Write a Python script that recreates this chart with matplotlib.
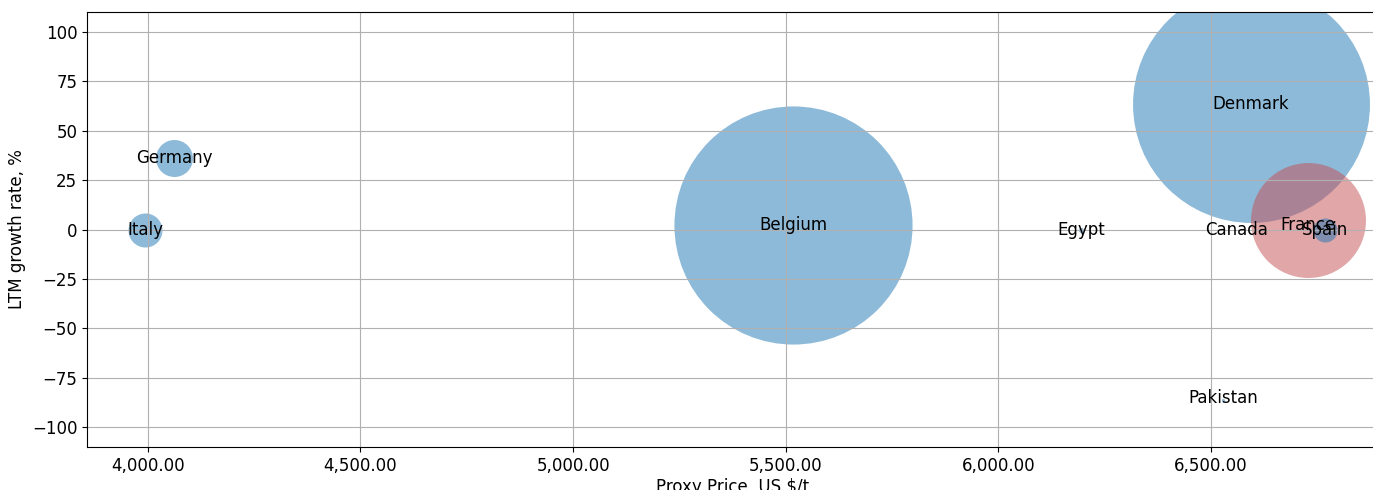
#!/usr/bin/env python3

import matplotlib
matplotlib.use("Agg")
import matplotlib.pyplot as plt
import matplotlib.ticker as mticker
from matplotlib.ticker import MultipleLocator

# ---- Data ----
countries = ["Italy", "Germany", "Belgium", "Egypt", "Canada",
             "Denmark", "France", "Spain", "Pakistan"]
proxy_price = [3994, 4062, 5518, 6195, 6560, 6594, 6729, 6768, 6528]
growth_rate = [0.0, 36.0, 2.5, 0.0, 0.0, 63.3, 5.0, 0.0, -86.0]
label_rate = [0.0, 36.0, 2.5, 0.0, 0.0, 63.3, 2.3, 0.0, -85.0]
bubble_size = [600, 710, 29400, 13, 0, 29100, 6850, 300, 5]
highlight = ["France"]

# ---- Plot ----
plt.rcParams["font.size"] = 12

fig = plt.figure(figsize=(13.73, 4.9), dpi=100)
ax = fig.add_axes([87 / 1373, 43 / 490, 1292 / 1373, 435 / 490])

for name, px, gr, ly, sz in zip(countries, proxy_price, growth_rate, label_rate, bubble_size):
    color = "#c44e52" if name in highlight else "tab:blue"
    ax.scatter(px, gr, s=sz, color=color, alpha=0.5, linewidths=0)
    ax.text(px, ly, name, ha="center", va="center", fontsize=12)

ax.set_xlim(3857, 6895)
ax.set_ylim(-110, 110)
ax.xaxis.set_major_locator(MultipleLocator(500))
ax.yaxis.set_major_locator(MultipleLocator(25))
ax.xaxis.set_major_formatter(mticker.StrMethodFormatter("{x:,.2f}"))

ax.set_xlabel("Proxy Price, US $/t", labelpad=2)
ax.set_ylabel("LTM growth rate, %")
ax.grid(True)

fig.savefig("out.png", dpi=100)
